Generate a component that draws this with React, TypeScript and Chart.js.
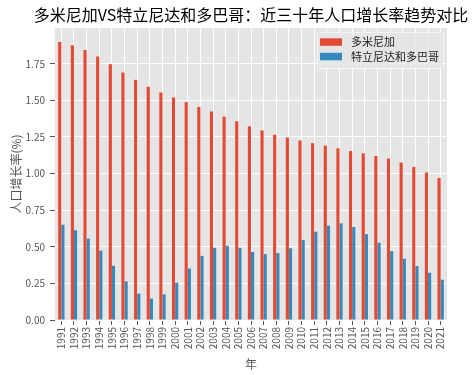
import { useEffect, useRef } from "react";
import { Chart, registerables } from "chart.js";

Chart.register(...registerables);

const years = [
  "1991", "1992", "1993", "1994", "1995", "1996", "1997", "1998", "1999", "2000",
  "2001", "2002", "2003", "2004", "2005", "2006", "2007", "2008", "2009", "2010",
  "2011", "2012", "2013", "2014", "2015", "2016", "2017", "2018", "2019", "2020", "2021",
];

const dominica = [
  1.899, 1.876, 1.844, 1.8, 1.747, 1.69, 1.64, 1.593, 1.554, 1.52,
  1.488, 1.455, 1.423, 1.389, 1.357, 1.323, 1.294, 1.265, 1.245, 1.226,
  1.208, 1.19, 1.172, 1.154, 1.138, 1.12, 1.102, 1.075, 1.045, 1.007, 0.97,
];

const trinidad = [
  0.651, 0.613, 0.556, 0.474, 0.37, 0.264, 0.18, 0.146, 0.175, 0.255,
  0.352, 0.438, 0.493, 0.506, 0.493, 0.465, 0.45, 0.457, 0.49, 0.547,
  0.603, 0.644, 0.66, 0.635, 0.586, 0.527, 0.47, 0.418, 0.368, 0.323, 0.275,
];

const seriesNames = ["多米尼加", "特立尼达和多巴哥"];
const seriesColors = ["#E24A33", "#348ABD"];
const yTicks = [0, 0.25, 0.5, 0.75, 1.0, 1.25, 1.5, 1.75];
const titleText = "多米尼加VS特立尼达和多巴哥：近三十年人口增长率趋势对比";
const yTitle = "人口增长率(%)";
const xTitle = "年";

const FONT = "'Noto Sans CJK SC', 'Noto Sans', sans-serif";

const decorPlugin = {
  id: "decor",
  beforeDraw(chart: any) {
    const { ctx, chartArea } = chart;
    ctx.save();
    ctx.fillStyle = "#ffffff";
    ctx.fillRect(0, 0, chart.width, chart.height);
    ctx.fillStyle = "#E5E5E5";
    ctx.fillRect(chartArea.left, chartArea.top, chartArea.right - chartArea.left, chartArea.bottom - chartArea.top);
    ctx.restore();
  },
  afterDraw(chart: any) {
    const { ctx, chartArea } = chart;
    ctx.save();
    // title
    ctx.fillStyle = "#000000";
    ctx.font = `16px ${FONT}`;
    ctx.textAlign = "center";
    ctx.textBaseline = "middle";
    ctx.fillText(titleText, (chartArea.left + chartArea.right) / 2, 15);

    // legend
    const bx = chartArea.right - 130;
    const by = chartArea.top + 4;
    const bw = 126;
    const bh = 36;
    ctx.fillStyle = "rgba(229,229,229,0.8)";
    ctx.strokeStyle = "rgba(245,245,245,0.9)";
    ctx.lineWidth = 1;
    ctx.beginPath();
    (ctx as any).roundRect ? (ctx as any).roundRect(bx + 0.5, by + 0.5, bw, bh, 2) : ctx.rect(bx + 0.5, by + 0.5, bw, bh);
    ctx.fill();
    ctx.stroke();
    ctx.font = `11px ${FONT}`;
    ctx.textAlign = "left";
    ctx.textBaseline = "middle";
    chart.data.datasets.forEach((ds: any, i: number) => {
      const cy = by + 10 + i * 14.5;
      ctx.fillStyle = ds.backgroundColor;
      ctx.fillRect(bx + 3, cy - 3.7, 22, 7.5);
      ctx.fillStyle = "#222222";
      ctx.fillText(ds.label, bx + 34, cy);
    });
    ctx.restore();
  },
};

export default function App() {
  const ref = useRef<HTMLCanvasElement | null>(null);

  useEffect(() => {
    document.body.style.margin = "0";
    const canvas = ref.current;
    if (!canvas) return;
    const chart = new Chart(canvas, {
      type: "bar",
      data: {
        labels: years,
        datasets: [
          { label: seriesNames[0], data: dominica, backgroundColor: seriesColors[0], borderWidth: 0 },
          { label: seriesNames[1], data: trinidad, backgroundColor: seriesColors[1], borderWidth: 0 },
        ],
      },
      options: {
        animation: false,
        responsive: false,
        devicePixelRatio: 1,
        layout: { padding: { top: 28, right: 27, left: 0, bottom: 0 } },
        datasets: { bar: { categoryPercentage: 0.5, barPercentage: 1.0 } },
        plugins: {
          legend: { display: false },
          title: { display: false },
          tooltip: { enabled: false },
        },
        scales: {
          x: {
            type: "category",
            offset: true,
            grid: {
              offset: false,
              color: "#ffffff",
              lineWidth: 1,
              tickColor: "#555555",
              tickLength: 5,
              drawTicks: true,
            },
            border: { display: false },
            ticks: {
              minRotation: 90,
              maxRotation: 90,
              autoSkip: false,
              padding: 2,
              color: "#555555",
              font: { family: FONT, size: 10 },
            },
            title: {
              display: true,
              text: xTitle,
              color: "#555555",
              font: { family: FONT, size: 12 },
              padding: { top: 0, bottom: 3 },
            },
            afterFit: (scale: any) => {
              scale.height = 55;
            },
          },
          y: {
            type: "linear",
            min: 0,
            max: 1.994,
            grid: {
              color: "#ffffff",
              lineWidth: 1,
              tickColor: "#555555",
              tickLength: 5,
            },
            border: { display: false },
            afterBuildTicks: (scale: any) => {
              scale.ticks = yTicks.map((v) => ({ value: v }));
            },
            ticks: {
              padding: 5,
              color: "#555555",
              font: { family: FONT, size: 10 },
              callback: (v: any) => Number(v).toFixed(2),
            },
            title: {
              display: true,
              text: yTitle,
              color: "#555555",
              font: { family: FONT, size: 12 },
              padding: { top: 9, bottom: 0 },
            },
            afterFit: (scale: any) => {
              scale.width = 55;
            },
          },
        },
      },
      plugins: [decorPlugin],
    });
    return () => chart.destroy();
  }, []);

  return (
    <div style={{ width: 474, height: 375 }}>
      <canvas ref={ref} width={474} height={375} style={{ width: 474, height: 375, display: "block" }} />
    </div>
  );
}
